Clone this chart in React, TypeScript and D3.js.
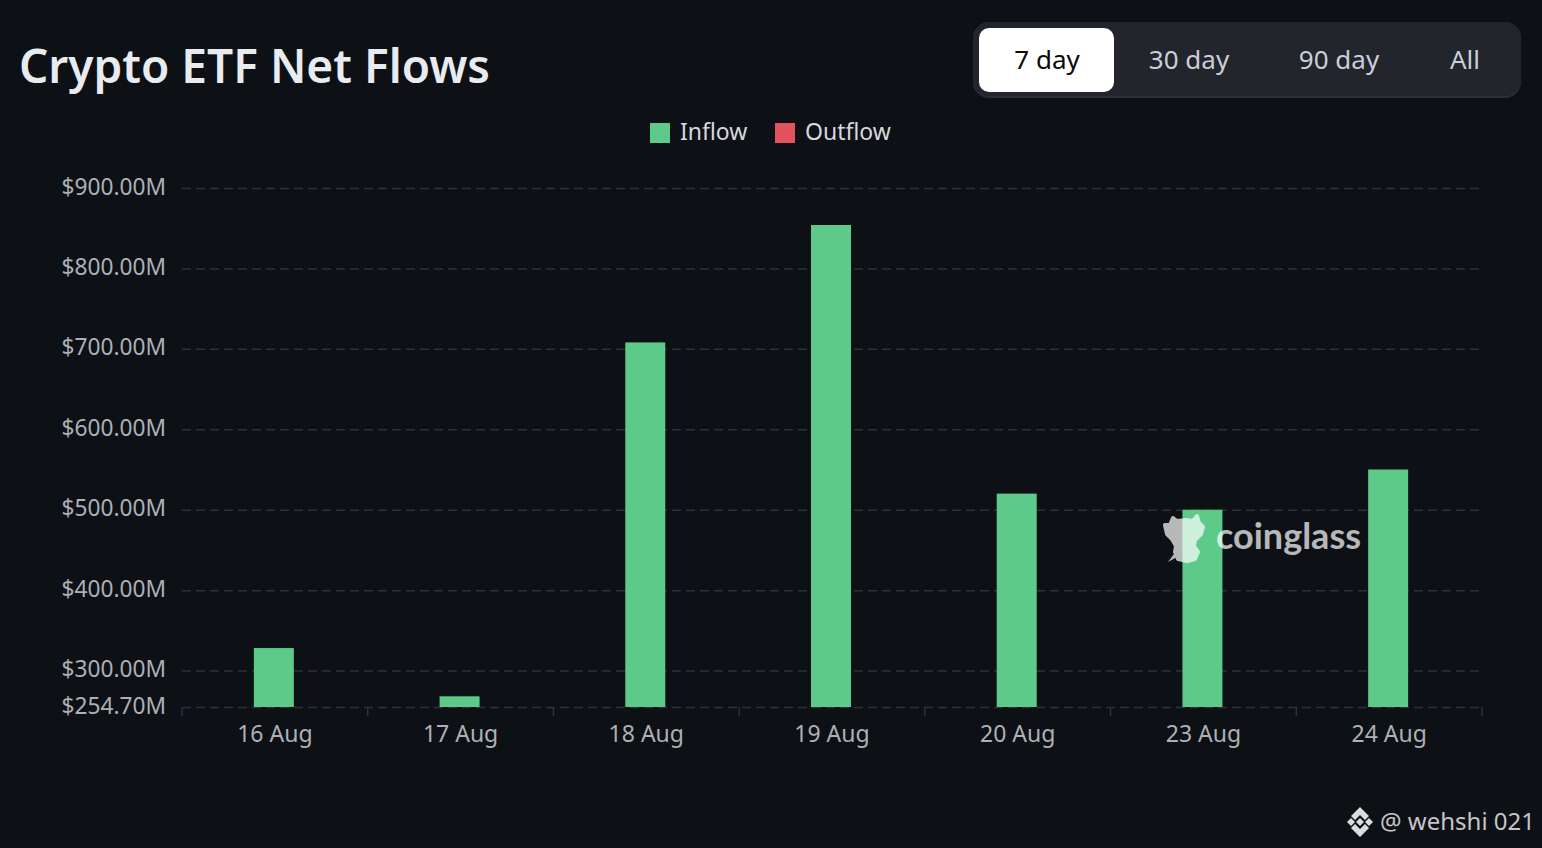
import React from 'react';
import * as d3 from 'd3';

const days = ['16 Aug', '17 Aug', '18 Aug', '19 Aug', '20 Aug', '23 Aug', '24 Aug'];
const inflow = [328, 268, 708, 854, 520, 500, 550];
const yTicks = [254.7, 300, 400, 500, 600, 700, 800, 900];
const rangeTabs = ['7 day', '30 day', '90 day', 'All'];
const tabCenters = [1047, 1189, 1339, 1465];
const legendItems = [
  { label: 'Inflow', color: '#5dca8a' },
  { label: 'Outflow', color: '#e4525f' },
];

const WIDTH = 1542;
const HEIGHT = 848;
const FONT = '"Noto Sans", sans-serif';

const x = d3.scaleBand<string>().domain(days).range([182, 1482]);
const y = d3.scaleLinear().domain([254.7, 900]).range([707, 188]);

const App: React.FC = () => {
  const axisRef = React.useRef<SVGGElement>(null);

  React.useEffect(() => {
    const g = d3.select(axisRef.current);
    g.selectAll('*').remove();

    const left = g
      .append('g')
      .attr('transform', 'translate(182,0)')
      .call(
        d3
          .axisLeft(y)
          .tickValues(yTicks)
          .tickSize(0)
          .tickPadding(16)
          .tickFormat((d) => `$${(+d).toFixed(2)}M`),
      );
    left.select('.domain').remove();
    left
      .selectAll('text')
      .attr('fill', '#adb0b5')
      .attr('font-size', 22.7)
      .attr('dy', '0.27em')
      .attr('font-family', FONT);
    left
      .selectAll('.tick')
      .append('line')
      .attr('x1', 0)
      .attr('x2', 1300)
      .attr('stroke', '#2e3136')
      .attr('stroke-width', 1.5)
      .attr('stroke-dasharray', '9 5');

    const bottom = g
      .append('g')
      .attr('transform', 'translate(0,707)')
      .call(d3.axisBottom(x).tickSize(0).tickPadding(19));
    bottom.select('.domain').remove();
    bottom
      .selectAll('text')
      .attr('fill', '#adb0b5')
      .attr('font-size', 23)
      .attr('font-family', FONT);
    bottom
      .selectAll('line.sep')
      .data([...days.map((d) => x(d)!), 1482])
      .enter()
      .append('line')
      .attr('class', 'sep')
      .attr('x1', (d) => d)
      .attr('x2', (d) => d)
      .attr('y1', 0)
      .attr('y2', 9)
      .attr('stroke', '#2e3136')
      .attr('stroke-width', 1.5);
  }, []);

  const barWidth = 40;

  return (
    <svg
      width={WIDTH}
      height={HEIGHT}
      style={{ position: 'absolute', left: 0, top: 0, background: '#0d1015', fontFamily: FONT }}
    >
      <text x={19} y={83} fontSize={46} fontWeight={600} fill="#e8ebf0">
        Crypto ETF Net Flows
      </text>

      <rect x={973} y={22} width={548} height={76} rx={16} fill="#2b2e35" />
      <rect x={973} y={22} width={548} height={74} rx={16} fill="#22252c" />
      <rect x={979} y={28} width={135} height={64} rx={10} fill="#ffffff" />
      {rangeTabs.map((t, i) => (
        <text
          key={t}
          x={tabCenters[i]}
          y={69}
          fontSize={26}
          textAnchor="middle"
          fill={i === 0 ? '#0b0b0b' : '#c9ced8'}
        >
          {t}
        </text>
      ))}

      {legendItems.map((item, i) => {
        const lx = i === 0 ? 650 : 775;
        return (
          <g key={item.label}>
            <rect x={lx} y={123} width={20} height={20} fill={item.color} />
            <text x={lx + 30} y={140} fontSize={23} fill="#d5d8de">
              {item.label}
            </text>
          </g>
        );
      })}

      <g ref={axisRef} />

      {days.map((d, i) => (
        <rect
          key={d}
          x={x(d)! + x.bandwidth() / 2 - barWidth / 2 - 1}
          y={y(inflow[i])}
          width={barWidth}
          height={y(254.7) - y(inflow[i])}
          fill="#5dca8a"
        />
      ))}

      {/* coinglass watermark */}
      <g opacity={0.7} fill="#ffffff">
        <path
          d="M1165 525 L1170 525 L1173 518 L1177 521 L1186 520 L1193 521 L1197 516 L1199 523 L1203 527 L1201 534 L1195 540 L1194 546 L1198 552 L1195 559 L1187 561 L1178 559 L1175 552 L1176 546 L1172 539 L1167 534 Z"
          stroke="#ffffff"
          strokeWidth={4}
          strokeLinejoin="round"
        />
        <path d="M1168 562 L1174 554 L1177 557 Z" />
        <text x={1216} y={549} fontSize={36} fontWeight={700} fontFamily="Lato, sans-serif">
          coinglass
        </text>
      </g>

      {/* footer mark */}
      <g fill="#dcdcdc">
        <path d="M1360 807 L1369 816 L1365 820 L1360 815 L1355 820 L1351 816 Z" />
        <path d="M1360 837 L1369 828 L1365 824 L1360 829 L1355 824 L1351 828 Z" />
        <path d="M1360 818 L1364 822 L1360 826 L1356 822 Z" />
        <path d="M1351 818 L1355 822 L1351 826 L1347 822 Z" />
        <path d="M1369 818 L1373 822 L1369 826 L1365 822 Z" />
      </g>
      <text x={1380} y={830} fontSize={24} fill="#c4c5c7">
        @ wehshi 021
      </text>
    </svg>
  );
};

export default App;
